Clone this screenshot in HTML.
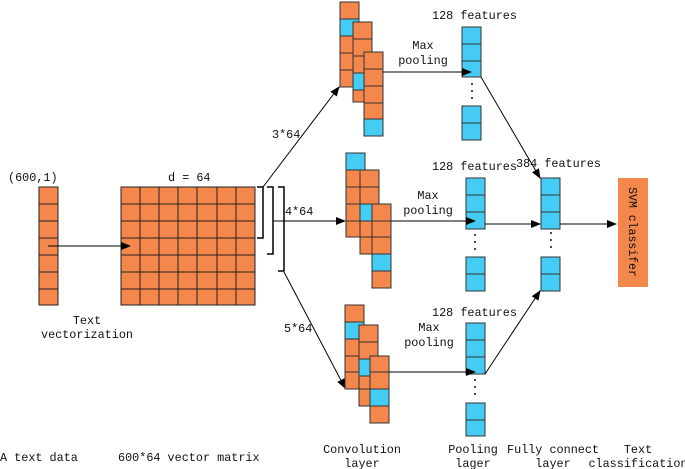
<!DOCTYPE html>
<html><head><meta charset="utf-8"><style>
html,body{margin:0;padding:0;background:#fff;}
svg{display:block;}
text{font-family:"Liberation Mono","Noto Serif CJK SC",monospace;font-size:11.8px;fill:#111;}
</style></head><body>
<svg width="685" height="469" viewBox="0 0 685 469" xmlns="http://www.w3.org/2000/svg">
<defs>
<marker id="ah" markerWidth="10" markerHeight="8" refX="9" refY="4" orient="auto" markerUnits="userSpaceOnUse">
<path d="M0,0 L10,4 L0,8 Z" fill="#000"/></marker>
</defs>
<g stroke="#222" stroke-width="1">
<g fill="#f4874b">
<rect x="39" y="187" width="19" height="17"/><rect x="39" y="204" width="19" height="17"/><rect x="39" y="221" width="19" height="17"/><rect x="39" y="238" width="19" height="17"/><rect x="39" y="255" width="19" height="17"/><rect x="39" y="272" width="19" height="17"/><rect x="39" y="289" width="19" height="16"/>
</g>
<rect x="121" y="187" width="134" height="118" fill="#f4874b"/>
<path d="M140,187V305M159,187V305M178,187V305M197,187V305M217,187V305M236,187V305M121,204H255M121,221H255M121,238H255M121,255H255M121,272H255M121,289H255" fill="none"/>
</g>
<line x1="48" y1="246" x2="130" y2="246" stroke="#000" marker-end="url(#ah)"/>
<g stroke="#000" stroke-width="1.5" fill="none">
<path d="M257,187H263V238H257"/>
<path d="M267,187H273V254H267"/>
<path d="M278,187H284V271H278"/>
</g>
<line x1="263" y1="187" x2="339" y2="87" stroke="#000" marker-end="url(#ah)"/>
<line x1="273" y1="221" x2="345" y2="221" stroke="#000" marker-end="url(#ah)"/>
<line x1="284" y1="272" x2="345" y2="388" stroke="#000" marker-end="url(#ah)"/>
<g stroke="#333" stroke-width="1">
<rect x="340" y="2" width="19" height="17" fill="#f4874b"/><rect x="340" y="19" width="19" height="17" fill="#44ccf5"/><rect x="340" y="36" width="19" height="17" fill="#f4874b"/><rect x="340" y="53" width="19" height="17" fill="#f4874b"/><rect x="340" y="70" width="19" height="17" fill="#f4874b"/>
<rect x="353" y="22" width="19" height="17" fill="#f4874b"/><rect x="353" y="39" width="19" height="17" fill="#f4874b"/><rect x="353" y="56" width="19" height="17" fill="#f4874b"/><rect x="353" y="73" width="19" height="17" fill="#44ccf5"/><rect x="353" y="90" width="19" height="12" fill="#f4874b"/>
<rect x="364" y="52" width="19" height="17" fill="#f4874b"/><rect x="364" y="69" width="19" height="17" fill="#f4874b"/><rect x="364" y="86" width="19" height="17" fill="#f4874b"/><rect x="364" y="103" width="19" height="16" fill="#f4874b"/><rect x="364" y="119" width="19" height="17" fill="#44ccf5"/>
<rect x="346" y="153" width="19" height="17" fill="#44ccf5"/><rect x="346" y="170" width="19" height="17" fill="#f4874b"/><rect x="346" y="187" width="19" height="17" fill="#f4874b"/><rect x="346" y="204" width="19" height="17" fill="#f4874b"/><rect x="346" y="221" width="19" height="16" fill="#f4874b"/>
<rect x="360" y="170" width="19" height="17" fill="#f4874b"/><rect x="360" y="187" width="19" height="17" fill="#f4874b"/><rect x="360" y="204" width="19" height="17" fill="#44ccf5"/><rect x="360" y="221" width="19" height="16" fill="#f4874b"/><rect x="360" y="237" width="19" height="17" fill="#f4874b"/>
<rect x="372" y="204" width="19" height="17" fill="#f4874b"/><rect x="372" y="221" width="19" height="16" fill="#f4874b"/><rect x="372" y="237" width="19" height="17" fill="#f4874b"/><rect x="372" y="254" width="19" height="17" fill="#44ccf5"/><rect x="372" y="271" width="19" height="17" fill="#f4874b"/>
<rect x="345" y="305" width="19" height="17" fill="#f4874b"/><rect x="345" y="322" width="19" height="17" fill="#44ccf5"/><rect x="345" y="339" width="19" height="17" fill="#f4874b"/><rect x="345" y="356" width="19" height="16" fill="#f4874b"/><rect x="345" y="372" width="19" height="17" fill="#f4874b"/>
<rect x="359" y="325" width="19" height="17" fill="#f4874b"/><rect x="359" y="342" width="19" height="17" fill="#f4874b"/><rect x="359" y="359" width="19" height="17" fill="#44ccf5"/><rect x="359" y="376" width="19" height="13" fill="#f4874b"/><rect x="359" y="389" width="19" height="17" fill="#f4874b"/>
<rect x="370" y="356" width="19" height="16" fill="#f4874b"/><rect x="370" y="372" width="19" height="17" fill="#f4874b"/><rect x="370" y="389" width="19" height="17" fill="#44ccf5"/><rect x="370" y="406" width="19" height="17" fill="#f4874b"/>
<g fill="#44ccf5">
<rect x="462" y="27" width="19" height="17"/><rect x="462" y="44" width="19" height="17"/><rect x="462" y="61" width="19" height="16"/><rect x="462" y="106" width="19" height="17"/><rect x="462" y="123" width="19" height="17"/>
<rect x="466" y="178" width="19" height="17"/><rect x="466" y="195" width="19" height="17"/><rect x="466" y="212" width="19" height="17"/><rect x="466" y="257" width="19" height="17"/><rect x="466" y="274" width="19" height="17"/>
<rect x="466" y="323" width="19" height="17"/><rect x="466" y="340" width="19" height="17"/><rect x="466" y="357" width="19" height="17"/><rect x="466" y="403" width="19" height="17"/><rect x="466" y="420" width="19" height="16"/>
<rect x="541" y="178" width="19" height="17"/><rect x="541" y="195" width="19" height="17"/><rect x="541" y="212" width="19" height="17"/><rect x="541" y="257" width="19" height="17"/><rect x="541" y="274" width="19" height="17"/>
</g>
</g>
<g fill="#111">
<circle cx="472" cy="84" r="1"/><circle cx="472" cy="91" r="1"/><circle cx="472" cy="98" r="1"/>
<circle cx="475" cy="235" r="1"/><circle cx="475" cy="242" r="1"/><circle cx="475" cy="249" r="1"/>
<circle cx="475" cy="380" r="1"/><circle cx="475" cy="387" r="1"/><circle cx="475" cy="394" r="1"/>
<circle cx="551" cy="233" r="1"/><circle cx="551" cy="240" r="1"/><circle cx="551" cy="247" r="1"/>
</g>
<rect x="618" y="178" width="30" height="109" fill="#f4874b"/>
<text transform="translate(629,232) rotate(90)" text-anchor="middle" style="font-size:11.5px">SVM classifer</text>
<g stroke="#000" fill="none">
<line x1="383" y1="72" x2="471" y2="72" marker-end="url(#ah)"/>
<line x1="391" y1="221" x2="475" y2="221" marker-end="url(#ah)"/>
<line x1="389" y1="372" x2="475" y2="372" marker-end="url(#ah)"/>
<line x1="481" y1="77" x2="540" y2="178" marker-end="url(#ah)"/>
<line x1="485" y1="224" x2="540" y2="224" marker-end="url(#ah)"/>
<line x1="485" y1="374" x2="540" y2="291" marker-end="url(#ah)"/>
<line x1="560" y1="224" x2="616" y2="224" marker-end="url(#ah)"/>
</g>
<text x="432" y="19">128 features</text>
<text x="423" y="49" text-anchor="middle">Max</text>
<text x="423" y="64" text-anchor="middle">pooling</text>
<text x="432" y="170">128 features</text>
<text x="428" y="199" text-anchor="middle">Max</text>
<text x="428" y="214" text-anchor="middle">pooling</text>
<text x="432" y="316">128 features</text>
<text x="429" y="331" text-anchor="middle">Max</text>
<text x="429" y="346" text-anchor="middle">pooling</text>
<text x="516" y="167">384 features</text>
<text x="272" y="138">3*64</text>
<text x="285" y="215">4*64</text>
<text x="284" y="332">5*64</text>
<text x="8" y="181">(600,1)</text>
<text x="168" y="181">d = 64</text>
<text x="87" y="324" text-anchor="middle">Text</text>
<text x="87" y="338" text-anchor="middle">vectorization</text>
<text x="0" y="461">A text data</text>
<text x="118" y="461">600*64 vector matrix</text>
<text x="362" y="453" text-anchor="middle">Convolution</text>
<text x="362" y="467" text-anchor="middle">layer</text>
<text x="473" y="453" text-anchor="middle">Pooling</text>
<text x="473" y="467" text-anchor="middle">lager</text>
<text x="553" y="453" text-anchor="middle">Fully connect</text>
<text x="553" y="467" text-anchor="middle">layer</text>
<text x="638" y="453" text-anchor="middle">Text</text>
<text x="638" y="467" text-anchor="middle">classification</text>
</svg>
</body></html>
